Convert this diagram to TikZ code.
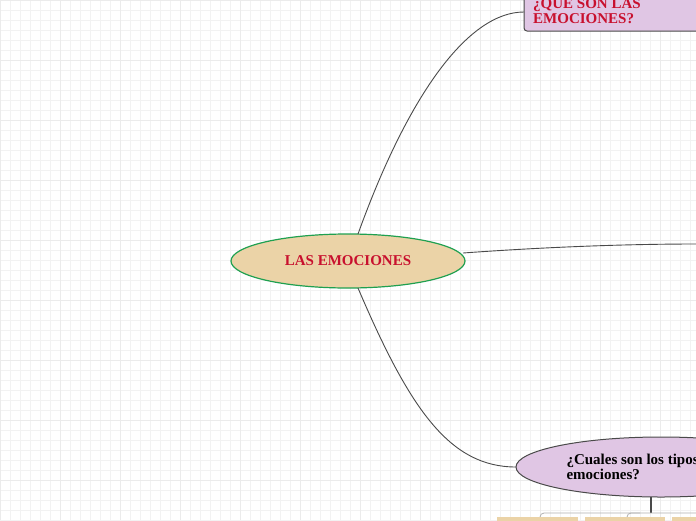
\documentclass[tikz,border=0pt]{standalone}
\usepackage{fontspec}
\setmainfont{Liberation Serif}
\usetikzlibrary{shapes.geometric}
\definecolor{tan}{HTML}{EBD3A7}
\definecolor{lilac}{HTML}{E0C6E4}
\definecolor{redt}{HTML}{C8102E}
\definecolor{grn}{HTML}{1FA050}
\definecolor{edge}{HTML}{4A4A4A}
\begin{document}
\begin{tikzpicture}[x=1pt,y=-1pt,
  conn/.style={draw=edge,line width=0.9pt},
  bigf/.style={font=\bfseries\fontsize{15}{15.5}\selectfont}]
\useasboundingbox (0,0) rectangle (696,520);
\fill[white] (0,0) rectangle (696,520);
\foreach \i in {0,10,...,690} \draw[black!5,line width=0.4pt] (\i,0) -- (\i,520);
\foreach \i in {0,10,...,520} \draw[black!5,line width=0.4pt] (0,\i) -- (696,\i);
\foreach \i in {0,60,...,690} \draw[black!8,line width=0.5pt] (\i,0) -- (\i,520);
\foreach \i in {0,60,...,520} \draw[black!8,line width=0.5pt] (0,\i) -- (696,\i);
% top box
\draw[fill=lilac,draw=edge,line width=1pt,rounded corners=3pt] (524,-10) rectangle (710,31);
\coordinate (topl) at (524,12);
\node[anchor=north west,align=left,inner sep=0pt,text=redt,bigf] (top) at (533,-5) {¿QUÉ SON LAS\\EMOCIONES?};
% central
\node[ellipse,draw=grn,fill=tan,line width=1.2pt,minimum width=234pt,minimum height=54pt,inner sep=0pt,text=redt,bigf] (c) at (348,261) {LAS EMOCIONES};
% bottom ellipse
\draw[fill=lilac,draw=edge,line width=1pt] (661,467) ellipse [x radius=145,y radius=30];
\coordinate (bl) at (516,467);
\node[anchor=west,align=left,bigf] (b) at (563,467) {¿Cuales son los tipos de\\emociones?};
\coordinate (rt) at (696,244);
% connectors
\draw[conn] (358,234) .. controls (410,90) and (470,12) .. (topl);
\draw[conn] (463,253) .. controls (560,246) and (640,244) .. (rt);
\draw[conn] (358,288) .. controls (410,410) and (450,467) .. (bl);
% bottom tree
\draw[draw=edge,line width=1.2pt] (651,497) -- (651,513);
\draw[draw=black!30,line width=0.8pt,rounded corners=4pt] (540,522) -- (540,513) -- (696,513);
\draw[draw=black!30,line width=0.8pt,rounded corners=4pt] (627,522) -- (627,513) -- (640,513);
\fill[tan] (497,517) rectangle (578,522);
\fill[tan] (585,517) rectangle (665,522);
\fill[tan] (672,517) rectangle (700,522);
\end{tikzpicture}
\end{document}
